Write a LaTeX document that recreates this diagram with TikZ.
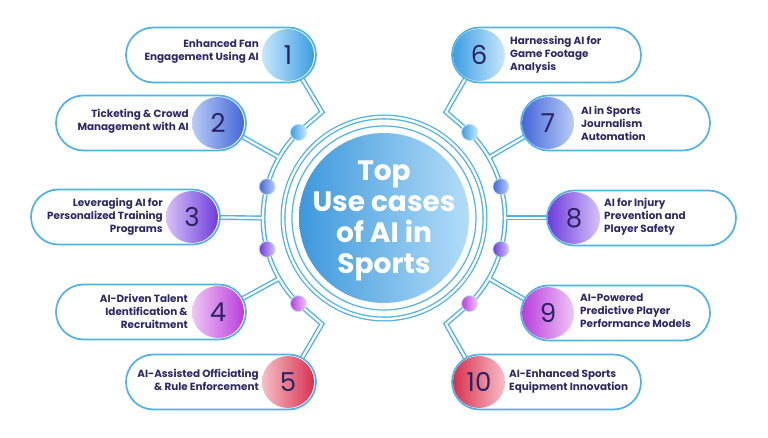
\documentclass[tikz,border=0pt]{standalone}
\usepackage{fontspec}
\setmainfont{Poppins}
\definecolor{lblue}{HTML}{4FB3EA}
\definecolor{navy}{HTML}{2E2867}
\definecolor{numc}{HTML}{2B2463}
\definecolor{cAd}{HTML}{3B9EE2}\definecolor{cAl}{HTML}{C9E7FB}
\definecolor{cBd}{HTML}{4566D8}\definecolor{cBl}{HTML}{B9CDF6}
\definecolor{cCd}{HTML}{6E3DDC}\definecolor{cCl}{HTML}{D6C2F7}
\definecolor{cDd}{HTML}{B93FDC}\definecolor{cDl}{HTML}{F0C6F6}
\definecolor{cEd}{HTML}{D8314F}\definecolor{cEl}{HTML}{F7BFC7}
\definecolor{hubd}{HTML}{3D98DC}\definecolor{hubl}{HTML}{B3DDF8}
\newcommand\allwires[1]{%
  \draw[#1] (d1) arc[start angle=135, end angle=225, radius=121];
  \draw[#1] (d8) arc[start angle=-45, end angle=45, radius=121];
  \draw[#1] (k1) -- (b1) -- (d1);
  \draw[#1] (k5) -- (b5) -- (d4);
  \draw[#1] (k6) -- (b6) -- (d5);
  \draw[#1] (k10) -- (b10) -- (d8);
  \draw[#1] (k2) -- (t2);
  \draw[#1] (k3) -- (t3);
  \draw[#1] (k4) -- (t4);
  \draw[#1] (k7) -- (t7);
  \draw[#1] (k8) -- (t8);
  \draw[#1] (k9) -- (t9);
}
\begin{document}
\begin{tikzpicture}[x=1pt,y=1pt,
  pill/.style={draw=lblue, line width=1.7pt, fill=white, rounded corners=27.5pt},
  wireout/.style={draw=lblue, line width=5pt},
  wirein/.style={draw=white, line width=2.2pt},
  lbl/.style={font=\bfseries\fontsize{10.4}{13}\selectfont, text=navy, inner sep=0pt},
  numcirc/.style={circle, minimum size=52pt, inner sep=0pt, font=\fontsize{26}{26}\selectfont, text=numc},
  dot/.style={circle, minimum size=16pt, inner sep=0pt, draw=lblue!40, line width=0.8pt},
]
\useasboundingbox (0,0) rectangle (768,-438);
\fill[white] (0,0) rectangle (768,-438);
% key coordinates
\coordinate (O) at (384,-218);
\coordinate (k1) at (288,-55);
\coordinate (k2) at (218,-123);
\coordinate (k3) at (192,-217);
\coordinate (k4) at (218,-312);
\coordinate (k5) at (288,-382);
\coordinate (k6) at (479,-55);
\coordinate (k7) at (548,-123);
\coordinate (k8) at (574,-218);
\coordinate (k9) at (548,-313);
\coordinate (k10) at (479,-382);
\coordinate (b1) at (322,-112);
\coordinate (b5) at (322,-324);
\coordinate (b6) at (446,-112);
\coordinate (b10) at (446,-324);
\coordinate (t2) at (279.2,-157.5);
\coordinate (t3) at (263,-218);
\coordinate (t4) at (279.2,-278.5);
\coordinate (t7) at (488.8,-157.5);
\coordinate (t8) at (505,-218);
\coordinate (t9) at (488.8,-278.5);
\coordinate (d1) at (298.4,-132.4);
\coordinate (d2) at (267.1,-186.7);
\coordinate (d3) at (267.1,-249.3);
\coordinate (d4) at (298.4,-303.6);
\coordinate (d5) at (469.6,-132.4);
\coordinate (d6) at (500.9,-186.7);
\coordinate (d7) at (500.9,-249.3);
\coordinate (d8) at (469.6,-303.6);
% wires
\allwires{wireout}
\allwires{wirein}
% hub
\draw[lblue, line width=1.3pt, double=white, double distance=2.4pt] (O) circle[radius=101];
\draw[lblue, line width=1.2pt] (O) circle[radius=92];
\shade[left color=hubd, right color=hubl] (O) circle[radius=85];
% dots
\node[dot, left color=cAd, right color=cAl] (p1) at (d1) {};
\node[dot, left color=cBd, right color=cBl] (p2) at (d2) {};
\node[dot, left color=cCd, right color=cCl] (p3) at (d3) {};
\node[dot, left color=cDd, right color=cDl] (p4) at (d4) {};
\node[dot, left color=cAd, right color=cAl] (p5) at (d5) {};
\node[dot, left color=cBd, right color=cBl] (p6) at (d6) {};
\node[dot, left color=cCd, right color=cCl] (p7) at (d7) {};
\node[dot, left color=cDd, right color=cDl] (p8) at (d8) {};
% pills
\draw[pill] (126,-27.5) rectangle (316,-82.5);
\draw[pill] (56,-95.5) rectangle (246,-150.5);
\draw[pill] (31,-189.5) rectangle (220,-244.5);
\draw[pill] (56,-284.5) rectangle (246,-339.5);
\draw[pill] (126,-354.5) rectangle (316,-409.5);
\draw[pill] (452,-27.5) rectangle (641,-82.5);
\draw[pill] (521,-95.5) rectangle (710,-150.5);
\draw[pill] (547,-190.5) rectangle (736,-245.5);
\draw[pill] (521,-285.5) rectangle (710,-340.5);
\draw[pill] (452,-354.5) rectangle (641,-409.5);
% number circles
\node[numcirc, left color=cAl, right color=cAd] (n1) at (k1) {1};
\node[numcirc, left color=cBl, right color=cBd] (n2) at (k2) {2};
\node[numcirc, left color=cCl, right color=cCd] (n3) at (k3) {3};
\node[numcirc, left color=cDl, right color=cDd] (n4) at (k4) {4};
\node[numcirc, left color=cEl, right color=cEd] (n5) at (k5) {5};
\node[numcirc, left color=cAd, right color=cAl] (n6) at (k6) {6};
\node[numcirc, left color=cBd, right color=cBl] (n7) at (k7) {7};
\node[numcirc, left color=cCd, right color=cCl] (n8) at (k8) {8};
\node[numcirc, left color=cDd, right color=cDl] (n9) at (k9) {9};
\node[numcirc, left color=cEd, right color=cEl] (n10) at (k10) {10};
% labels
\node[lbl, anchor=east, align=right] (l1) at (259,-52) {Enhanced Fan\\Engagement Using AI};
\node[lbl, anchor=east, align=right] (l2) at (189,-121) {Ticketing \& Crowd\\Management with AI};
\node[lbl, anchor=east, align=right] (l3) at (163,-217) {Leveraging AI for\\Personalized Training\\Programs};
\node[lbl, anchor=east, align=right] (l4) at (188,-311) {AI-Driven Talent\\Identification \&\\Recruitment};
\node[lbl, anchor=east, align=right] (l5) at (259,-380) {AI-Assisted Officiating\\\& Rule Enforcement};
\node[lbl, anchor=west, align=left] (l6) at (510,-55) {Harnessing AI for\\Game Footage\\Analysis};
\node[lbl, anchor=west, align=left] (l7) at (581,-123) {AI in Sports\\Journalism\\Automation};
\node[lbl, anchor=west, align=left] (l8) at (604,-217) {AI for Injury\\Prevention and\\Player Safety};
\node[lbl, anchor=west, align=left] (l9) at (580,-311) {AI-Powered\\Predictive Player\\Performance Models};
\node[lbl, anchor=west, align=left] (l10) at (509,-382) {AI-Enhanced Sports\\Equipment Innovation};
% hub title
\node[font=\bfseries\fontsize{28}{31}\selectfont, align=center, text=white, inner sep=0pt] (tt) at (384,-220.5) {Top\\Use cases\\of AI in\\Sports};
\end{tikzpicture}
\end{document}
